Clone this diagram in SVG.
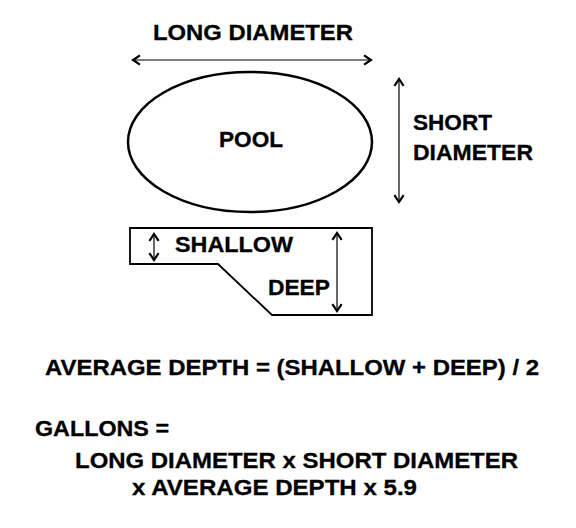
<svg xmlns="http://www.w3.org/2000/svg" width="576" height="528" viewBox="0 0 576 528">
<defs>
<style>
text{font-family:"Liberation Sans",Arial,sans-serif;font-weight:bold;fill:#000;font-size:22px;stroke:#000;stroke-width:0.3}
.ln{stroke:#000;stroke-width:1.2;fill:none}
.hd{stroke:#000;stroke-width:2.2;fill:none;stroke-linecap:square}
.sh{stroke:#000;fill:none}
</style>
</defs>
<rect width="576" height="528" fill="#fff"/>
<g id="connectors">
<g id="long-arrow">
<line class="ln" x1="133" y1="60" x2="371" y2="60"/>
<polyline class="hd" points="139,56 133,60 139,64"/>
<polyline class="hd" points="365,56 371,60 365,64"/>
</g>
<g id="short-arrow">
<line class="ln" x1="399" y1="79" x2="399" y2="202"/>
<polyline class="hd" points="395,85 399,79 403,85"/>
<polyline class="hd" points="395,196 399,202 403,196"/>
</g>
<g id="shallow-arrow">
<line class="ln" x1="154" y1="234" x2="154" y2="260"/>
<polyline class="hd" points="150,240 154,234 158,240"/>
<polyline class="hd" points="150,254 154,260 158,254"/>
</g>
<g id="deep-arrow">
<line class="ln" x1="337" y1="233" x2="337" y2="311"/>
<polyline class="hd" points="333,239 337,233 341,239"/>
<polyline class="hd" points="333,305 337,311 341,305"/>
</g>
</g>
<g id="long-label"><text x="153" y="40" textLength="200" lengthAdjust="spacingAndGlyphs">LONG DIAMETER</text></g>
<g id="pool"><ellipse class="sh" stroke-width="2.5" cx="250" cy="142" rx="122" ry="70"/><text x="219" y="147" textLength="64" lengthAdjust="spacingAndGlyphs">POOL</text></g>
<g id="short-label"><text x="413" y="130" textLength="79" lengthAdjust="spacingAndGlyphs">SHORT</text><text x="413" y="160" textLength="120" lengthAdjust="spacingAndGlyphs">DIAMETER</text></g>
<g id="cross-section"><polygon class="sh" stroke-width="1.8" points="130,228 372,228 372,315 272,315 218,264 130,264"/></g>
<g id="shallow-label"><text x="175" y="252" textLength="118" lengthAdjust="spacingAndGlyphs">SHALLOW</text></g>
<g id="deep-label"><text x="268" y="295" textLength="62" lengthAdjust="spacingAndGlyphs">DEEP</text></g>
<g id="formulas">
<text x="45" y="375" textLength="494" lengthAdjust="spacingAndGlyphs">AVERAGE DEPTH = (SHALLOW + DEEP) / 2</text>
<text x="35" y="436" textLength="134" lengthAdjust="spacingAndGlyphs">GALLONS =</text>
<text x="75" y="468" textLength="443" lengthAdjust="spacingAndGlyphs">LONG DIAMETER x SHORT DIAMETER</text>
<text x="132" y="495" textLength="285" lengthAdjust="spacingAndGlyphs">x AVERAGE DEPTH x 5.9</text>
</g>
</svg>
